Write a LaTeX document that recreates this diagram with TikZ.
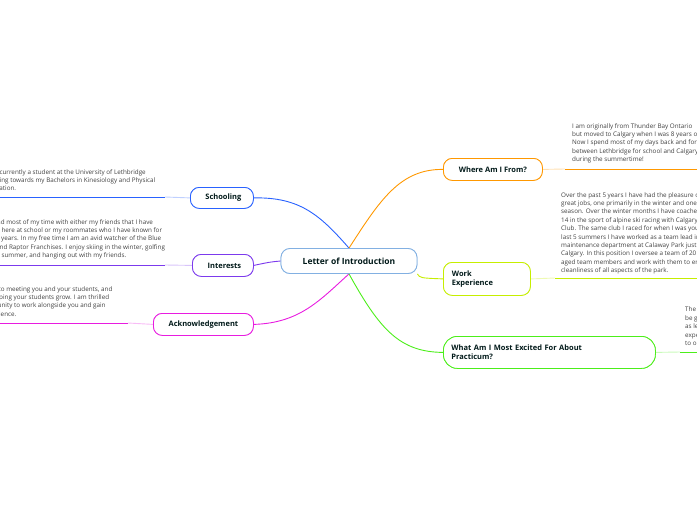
\documentclass[tikz,border=0pt]{standalone}
\usepackage{fontspec}
\setmainfont{Open Sans}
\begin{document}
\begin{tikzpicture}[x=1pt,y=-1pt,
 topic/.style={draw=#1,line width=0.8pt,rounded corners=9pt,fill=white,font=\fontsize{7.5}{9}\selectfont\bfseries,text=black!80!teal,anchor=north west},
 note/.style={font=\fontsize{6.3}{8.4}\selectfont,text=black!75,align=left,anchor=north west,inner sep=0pt},
 br/.style={line width=0.9pt}]
\useasboundingbox (0,0) rectangle (697,520);
\clip (0,0) rectangle (697,520);
\definecolor{kb}{HTML}{2962FF}\definecolor{kp}{HTML}{7C3AED}\definecolor{km}{HTML}{E81CE0}
\definecolor{ko}{HTML}{FF9800}\definecolor{ky}{HTML}{C6EE00}\definecolor{kg}{HTML}{4CEE1A}
% nodes
\node[topic=cyan!60!blue!50,minimum width=136pt,minimum height=25pt,font=\fontsize{8.5}{10}\selectfont\bfseries,anchor=center] (m) at (349,261) {Letter of Introduction};
\node[topic=kb,minimum width=63pt,minimum height=21pt] (s) at (190,187) {\hspace*{3pt}Schooling};
\node[topic=kp,minimum width=61pt,minimum height=22pt] (i) at (192,254) {\hspace*{3pt}Interests};
\node[topic=km,minimum width=100pt,minimum height=22pt] (a) at (153,313) {Acknowledgement};
\node[topic=ko,minimum width=99pt,minimum height=22pt] (w) at (443,158) {Where Am I From?};
\node[topic=ky,minimum width=87pt,minimum height=33pt,align=left,text width=70pt] (e) at (443,262) {Work\\Experience};
\node[topic=kg,minimum width=212pt,minimum height=32pt,align=left,text width=196pt,rounded corners=14pt] (x) at (443,336) {What Am I Most Excited For About\\Practicum?};
% connectors
\draw[br,kb] (m.north) .. controls (320,215) and (300,197) .. (s.east);
\draw[br,kp] (m.west) .. controls (270,262) .. (i.east);
\draw[br,km] (m.south) .. controls (320,300) and (300,323) .. (a.east);
\draw[br,ko] (m.north) .. controls (380,200) and (400,169) .. (w.west);
\draw[br,ky] (m.south east) .. controls (420,278) .. (e.west);
\draw[br,kg] (m.south) .. controls (380,330) and (400,352) .. (x.west);
% underlines
\coordinate (us) at (0,197); \coordinate (ui) at (0,265); \coordinate (ua) at (0,323);
\coordinate (uw) at (697,169); \coordinate (ue) at (697,278); \coordinate (ux) at (697,352);
\draw[br,kb!30] (s.west) -- (165,197); \draw[br,kb] (165,197) -- (us);
\draw[br,kp!30] (i.west) -- (165,265); \draw[br,kp] (165,265) -- (ui);
\draw[br,km!30] (a.west) -- (128,323); \draw[br,km] (128,323) -- (ua);
\draw[br,ko!30] (w.east) -- (565,169); \draw[br,ko] (565,169) -- (uw);
\draw[br,ky!30] (e.east) -- (555,278); \draw[br,ky] (555,278) -- (ue);
\draw[br,kg!30] (x.east) -- (680,352); \draw[br,kg] (680,352) -- (ux);
% redraw nodes on top
\node[topic=cyan!60!blue!50,minimum width=136pt,minimum height=25pt,font=\fontsize{8.5}{10}\selectfont\bfseries,anchor=center] at (349,261) {Letter of Introduction};
\node[topic=kb,minimum width=63pt,minimum height=21pt] at (190,187) {\hspace*{3pt}Schooling};
\node[topic=kp,minimum width=61pt,minimum height=22pt] at (192,254) {\hspace*{3pt}Interests};
\node[topic=km,minimum width=100pt,minimum height=22pt] at (153,313) {Acknowledgement};
\node[topic=ko,minimum width=99pt,minimum height=22pt] at (443,158) {Where Am I From?};
\node[topic=ky,minimum width=87pt,minimum height=33pt,align=left,text width=70pt] at (443,262) {Work\\Experience};
\node[topic=kg,minimum width=212pt,minimum height=32pt,align=left,text width=196pt,rounded corners=14pt] at (443,336) {What Am I Most Excited For About\\Practicum?};
% notes
\node[note] (ns) at (-15,169) {I am currently a student at the University of Lethbridge\\working towards my Bachelors in Kinesiology and Physical\\Education.};
\node[note] (ni) at (-17,219) {I spend most of my time with either my friends that I have\\made here at school or my roommates who I have known for\\many years. In my free time I am an avid watcher of the Blue\\Jays and Raptor Franchises. I enjoy skiing in the winter, golfing\\in the summer, and hanging out with my friends.};
\node[note] (na) at (-44,286) {I look forward to meeting you and your students, and\\assisting in helping your students grow. I am thrilled\\for the opportunity to work alongside you and gain\\valuable experience.};
\node[note] (nw) at (572,123) {I am originally from Thunder Bay Ontario\\but moved to Calgary when I was 8 years old.\\Now I spend most of my days back and forth\\between Lethbridge for school and Calgary\\during the summertime!};
\node[note] (ne) at (561,192) {Over the past 5 years I have had the pleasure of working two\\great jobs, one primarily in the winter and one in the summer\\season. Over the winter months I have coached kids ages 8 to\\14 in the sport of alpine ski racing with Calgary Alpine Ski\\Club. The same club I raced for when I was younger. For the\\last 5 summers I have worked as a team lead in the\\maintenance department at Calaway Park just outside of\\Calgary. In this position I oversee a team of 20 high school\\aged team members and work with them to ensure the\\cleanliness of all aspects of the park.};
\node[note] (nx) at (685,307) {The thing I am most excited\\be given the chance\\as learn\\experience\\to our};
\end{tikzpicture}
\end{document}
